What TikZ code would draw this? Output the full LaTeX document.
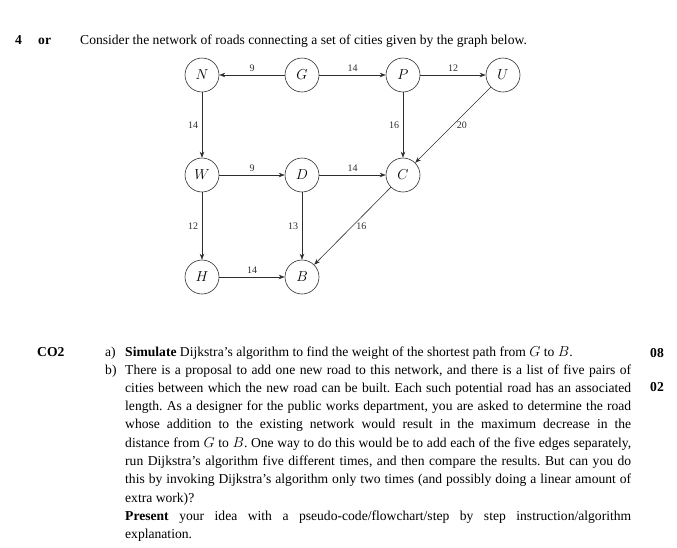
\documentclass[tikz,border=0pt]{standalone}
\usepackage{fontspec}
\setmainfont{Liberation Serif}
\usetikzlibrary{arrows.meta,positioning}
\definecolor{rdInk}{HTML}{2E2E2E}
\tikzset{
 roadmap/.style={x=1pt,y=-1pt,font=\fontsize{13.6}{18.3}\selectfont\frenchspacing,line cap=round,line join=round},
 city/.style={circle,draw=rdInk,fill=white,line width=.6pt,inner sep=0pt,minimum size=34pt,
   font=\fontsize{13.5}{13.5}\selectfont},
 road/.style={draw=rdInk,line width=.6pt,-{Stealth[length=6pt,width=4.5pt]}},
 wt/.style={font=\fontsize{10}{10}\selectfont,inner sep=3.5pt,text=rdInk},
 tag/.style={font=\fontsize{13.6}{18.3}\selectfont\bfseries,anchor=base west,inner sep=0pt},
 item/.style={anchor=base west,inner sep=0pt},
 body/.style={anchor=base west,inner sep=0pt,text width=506pt,align=justify}
}
\begin{document}
\begin{tikzpicture}[roadmap]
 \useasboundingbox (0,0) rectangle (677,547);
 % heading
 \node[tag] (qno) at (15,44) {4};
 \node[tag] (qor) at (38,44) {or};
 \node[item] (intro) at (80,44) {Consider the network of roads connecting a set of cities given by the graph below.};
 % cities
 \coordinate (n) at (202,75); \coordinate (g) at (302,75); \coordinate (p) at (403,75); \coordinate (u) at (503,75);
 \coordinate (w) at (202,175); \coordinate (d) at (302,175); \coordinate (c) at (403,175);
 \coordinate (h) at (202,277); \coordinate (b) at (302,277);
 \node[city] (N) at (n) {$N$}; \node[city] (G) at (g) {$G$};
 \node[city] (P) at (p) {$P$}; \node[city] (U) at (u) {$U$};
 \node[city] (W) at (w) {$W$}; \node[city] (D) at (d) {$D$};
 \node[city] (C) at (c) {$C$};
 \node[city] (H) at (h) {$H$}; \node[city] (B) at (b) {$B$};
 % roads
 \draw[road] (G) -- node[wt,above] {9} (N);
 \draw[road] (G) -- node[wt,above] {14} (P);
 \draw[road] (P) -- node[wt,above] {12} (U);
 \draw[road] (N) -- node[wt,left] {14} (W);
 \draw[road] (P) -- node[wt,left] {16} (C);
 \draw[road] (U) -- node[wt,right] {20} (C);
 \draw[road] (W) -- node[wt,above] {9} (D);
 \draw[road] (D) -- node[wt,above] {14} (C);
 \draw[road] (W) -- node[wt,left] {12} (H);
 \draw[road] (D) -- node[wt,left] {13} (B);
 \draw[road] (C) -- node[wt,right] {16} (B);
 \draw[road] (H) -- node[wt,above] {14} (B);
 % question parts
 \node[tag] (co) at (37,356) {CO2};
 \node[item] (pa) at (105,356) {a)};
 \node[item] (ta) at (125,356) {\textbf{Simulate} Dijkstra’s algorithm to find the weight of the shortest path from $G$ to $B$.};
 \node[tag,anchor=base east] (ma) at (664,357) {08};
 \node[item] (pb) at (105,374) {b)};
 \node[body] (tb) at (125,374) {There is a proposal to add one new road to this network, and there is a list of five pairs of
  \linebreak cities between which the new road can be built. Each such potential road has an associated
  \linebreak length. As a designer for the public works department, you are asked to determine the road
  \linebreak whose addition to the existing network would result in the maximum decrease in the
  \linebreak distance from $G$ to $B$. One way to do this would be to add each of the five edges separately,
  \linebreak run Dijkstra’s algorithm five different times, and then compare the results. But can you do
  \linebreak this by invoking Dijkstra’s algorithm only two times (and possibly doing a linear amount of
  \linebreak extra work)?\par
  \textbf{Present} your idea with a pseudo-code/flowchart/step by step instruction/algorithm
  \linebreak explanation.};
 \node[tag,anchor=base east] (mb) at (664,391) {02};
\end{tikzpicture}
\end{document}
